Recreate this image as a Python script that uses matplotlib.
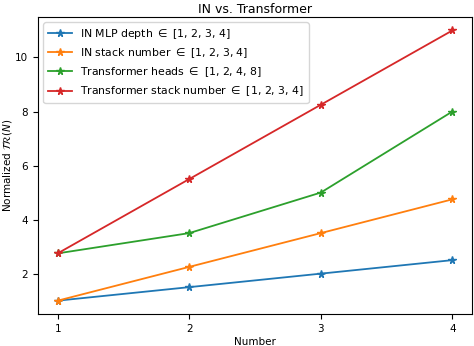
import matplotlib.pyplot as plt

# --- данные ---
x = [1, 2, 3, 4]
in_mlp_depth = [1.0, 1.5, 2.0, 2.5]
in_stack = [1.0, 2.25, 3.5, 4.75]
tf_heads = [2.75, 3.5, 5.0, 8.0]
tf_stack = [2.75, 5.5, 8.25, 11.0]

labels = [
    r'IN MLP depth $\in$ [1, 2, 3, 4]',
    r'IN stack number $\in$ [1, 2, 3, 4]',
    r'Transformer heads $\in$ [1, 2, 4, 8]',
    r'Transformer stack number $\in$ [1, 2, 3, 4]',
]

plt.rcParams['font.size'] = 7.5

fig = plt.figure(figsize=(4.74, 3.46), dpi=100)
ax = fig.add_axes([0.08, 0.092, 0.916, 0.859])

for ys, lab in zip([in_mlp_depth, in_stack, tf_heads, tf_stack], labels):
    ax.plot(x, ys, marker='*', markersize=5.5, linewidth=1.3, label=lab)

ax.set_xticks(x)
ax.set_yticks([2, 4, 6, 8, 10])
ax.set_xlabel('Number', labelpad=2)
ax.set_ylabel(r'Normalized $\mathcal{TR}(N)$', labelpad=1)
ax.set_title('IN vs. Transformer', fontsize=9, pad=3)
ax.legend(loc='upper left', fontsize=7.8, handlelength=2.2)

fig.savefig('out.png', dpi=100)
